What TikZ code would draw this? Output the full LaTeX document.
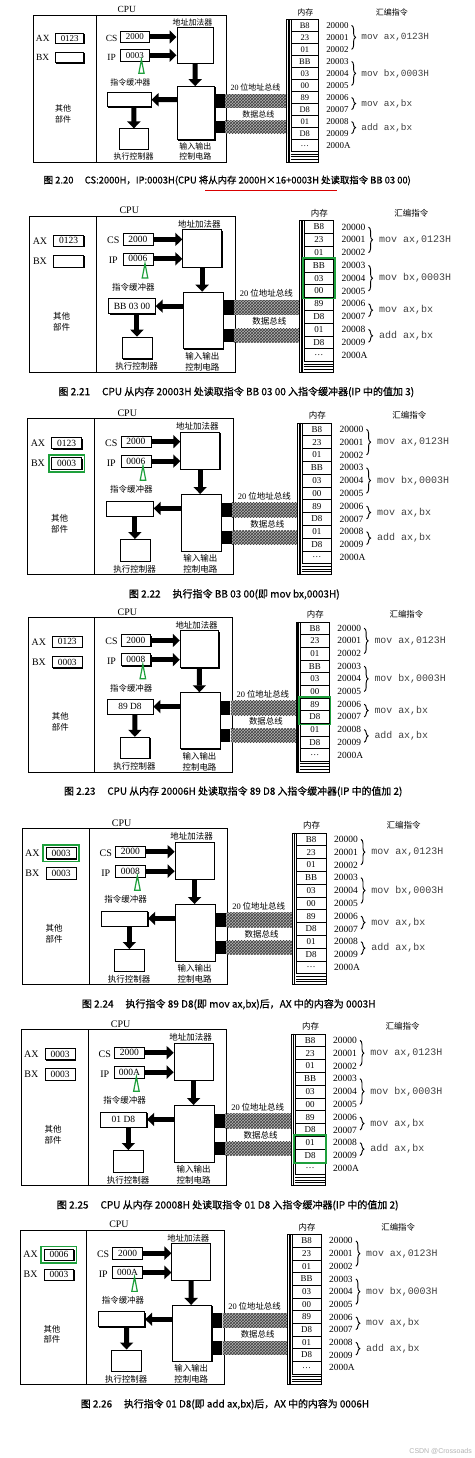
\documentclass[tikz,border=0pt]{standalone}
\usepackage{fontspec}
\setmainfont{Liberation Serif}
\setmonofont{Liberation Mono}
\newfontfamily\cjk{Noto Sans CJK SC}
\newfontfamily\capcjk[FakeBold=0.6]{Noto Sans CJK SC}
\newfontfamily\capfont{Liberation Sans}
\usetikzlibrary{positioning,fit,shadows,patterns,arrows.meta,decorations.pathreplacing}
\definecolor{hlgreen}{RGB}{30,160,60}

\begin{document}
\begin{tikzpicture}[x=1pt, y=-1pt,
    cpuframe/.style={draw, line width=0.9pt, anchor=north west, inner sep=0pt},
    reg/.style={draw, line width=0.7pt, fill=white, anchor=north west, inner sep=0pt,
      font=\fontsize{9.5}{10}\selectfont,
      drop shadow={shadow xshift=0.9pt, shadow yshift=-0.9pt, opacity=1, fill=black}},
    lbl/.style={inner sep=0pt, font=\fontsize{10}{11}\selectfont},
    zh/.style={inner sep=0pt, align=center, font=\cjk\fontsize{8.5}{11}\selectfont},
    fat/.style={line width=5pt, -{Triangle[length=7pt,width=13pt]}},
    stub/.style={fill=black, anchor=north west, inner sep=0pt, minimum width=10.7pt},
    bus/.style={anchor=west, inner sep=0pt, minimum width=66pt,
      preaction={fill=gray!60}, pattern=crosshatch, pattern color=black!75},
    cell/.style={draw, line width=0.6pt, anchor=north west, inner sep=0pt,
      minimum width=29.7pt, minimum height=12.8pt, font=\fontsize{9}{10}\selectfont},
    addr/.style={inner sep=0pt, font=\fontsize{9.5}{10}\selectfont},
    asm/.style={inner sep=0pt, text=black!75, font=\ttfamily\fontsize{10}{11}\selectfont},
    brace/.style={decorate, decoration={brace, amplitude=4pt}, line width=0.9pt},
    ipmark/.style={draw=hlgreen, line width=1.2pt, line join=miter},
    hlbox/.style={draw=hlgreen, line width=1.6pt},
    hlAX/.style={hlbox, inner sep=2.5pt, fit=(\n-ax)},
    hlBX/.style={hlbox, inner sep=2.5pt, fit=(\n-bx)},
    hlBB/.style={hlbox, inner sep=0.8pt, fit=(\n-m4)(\n-m6)},
    hl89/.style={hlbox, inner sep=0.8pt, fit=(\n-m7)(\n-m8)},
    hl01/.style={hlbox, inner sep=0.8pt, fit=(\n-m9)(\n-m10)},
    captext/.style={inner sep=0pt, font=\capcjk\fontsize{10}{12}\selectfont}]
  \useasboundingbox (0,0) rectangle (474,1458);

  \foreach \n/\px/\py/\scl/\axv/\bxv/\ipv/\bufv/\hlt/\capt in {
    1/32.7/15/0.94/0123/{}/0003/{}/{}/{图 2.20\hspace{1.2em}CS:2000H，IP:0003H(CPU 将从内存 2000H×16+0003H 处读取指令 BB 03 00)},
    2/29.3/216/1/0123/{}/0006/{BB 03 00}/hlBB/{图 2.21\hspace{1.2em}CPU 从内存 20003H 处读取指令 BB 03 00 入指令缓冲器(IP 中的值加 3)},
    3/27.3/418.3/1/0123/0003/0006/{}/hlBX/{图 2.22\hspace{1.2em}执行指令 BB 03 00(即 mov bx,0003H)},
    4/28.3/617.3/0.99/0123/0003/0008/{89 D8}/hl89/{图 2.23\hspace{1.2em}CPU 从内存 20006H 处读取指令 89 D8 入指令缓冲器(IP 中的值加 2)},
    5/21.7/828.3/1/0003/0003/0008/{}/hlAX/{图 2.24\hspace{1.2em}执行指令 89 D8(即 mov ax,bx)后，AX 中的内容为 0003H},
    6/20.7/1029.3/1/0003/0003/000A/{01 D8}/hl01/{图 2.25\hspace{1.2em}CPU 从内存 20008H 处读取指令 01 D8 入指令缓冲器(IP 中的值加 2)},
    7/20/1230/0.99/0006/0003/000A/{}/hlAX/{图 2.26\hspace{1.2em}执行指令 01 D8(即 add ax,bx)后，AX 中的内容为 0006H}}
  {
  \begin{scope}[shift={(\px,\py)}, scale=\scl, transform shape]
    %---------------- CPU frame ----------------
    \node[cpuframe, minimum width=205.7pt, minimum height=156pt] (\n-cpu) at (0,0) {};
    \draw[line width=0.9pt] (67.3,0) -- (67.3,156);
    \node[lbl] (\n-cpul) at (100,-5.5) {CPU};
    %---------------- registers ----------------
    \node[lbl] (\n-axl) at (10.7,24.7) {AX};
    \node[reg, minimum width=30pt, minimum height=11pt] (\n-ax) at (24,19) {\axv};
    \node[lbl] (\n-bxl) at (10.7,45) {BX};
    \node[reg, minimum width=30pt, minimum height=11.5pt] (\n-bx) at (24,39) {\bxv};
    \node[zh] (\n-rest) at (32.3,105.3) {其他\\部件};
    \node[lbl] (\n-csl) at (84,24.7) {CS};
    \node[reg, minimum width=30pt, minimum height=11.5pt] (\n-cs) at (93.3,17.3) {2000};
    \node[lbl] (\n-ipl) at (84,44.7) {IP};
    \node[reg, minimum width=30pt, minimum height=12pt] (\n-ip) at (93.3,36.5) {\ipv};
    \draw[ipmark] (115.7,47.5) -- (118.5,62) -- (112.9,62) -- cycle;
    %---------------- units ----------------
    \node[reg, minimum width=39pt, minimum height=37.4pt] (\n-add) at (153,13.3) {};
    \node[zh] (\n-addl) at (170,8) {地址加法器};
    \node[reg, minimum width=40pt, minimum height=56.6pt] (\n-io) at (153.3,75.7) {};
    \node[zh] (\n-iol) at (173,145.5) {输入输出\\控制电路};
    \node[zh] (\n-bufl) at (104,71.3) {指令缓冲器};
    \node[reg, minimum width=46.7pt, minimum height=15pt] (\n-buf) at (79,82.3) {\bufv};
    \node[reg, minimum width=30pt, minimum height=21.6pt] (\n-exe) at (92.3,120.7) {};
    \node[zh] (\n-exel) at (107.3,150.7) {执行控制器};
    \draw[fat] (\n-cs) -- (\n-cs -| \n-add.west);
    \draw[fat] (\n-ip) -- (\n-ip -| \n-add.west);
    \draw[fat] (\n-add) -- (\n-add |- \n-io.north);
    \draw[fat] (\n-io.west |- \n-buf) -- (\n-buf);
    \draw[fat] (\n-exe.north |- \n-buf.south) -- (\n-exe);
    %---------------- buses ----------------
    \node[stub, minimum height=14.5pt] (\n-as) at (193.3,84) {};
    \node[bus, minimum height=14.5pt] (\n-ab) at (\n-as.east) {};
    \node[stub, minimum height=13.5pt] (\n-ds) at (193.3,112.3) {};
    \node[bus, minimum height=13.5pt] (\n-db) at (\n-ds.east) {};
    \node[zh] (\n-abl) at (237,77.5) {{\rmfamily 20} 位地址总线};
    \node[zh] (\n-dbl) at (240,105.5) {数据总线};
    %---------------- memory ----------------
    \node[zh] (\n-meml) at (290,-3) {内存};
    \node[zh] (\n-asml) at (382,-3) {汇编指令};
    \node[draw, line width=0.7pt, anchor=north west, inner sep=0pt,
      minimum width=34pt, minimum height=151.7pt] (\n-mem) at (270,4.3) {};
    \draw[line width=1.6pt] (272.6,4.3) -- (272.6,156);
    \foreach \val/\ad [count=\i] in {B8/20000,23/20001,01/20002,BB/20003,03/20004,00/20005,89/20006,D8/20007,01/20008,D8/20009,\ldots/2000A} {
      \node[cell] (\n-m\i) at (274.3,{4.3+(\i-1)*12.8}) {\val};
      \node[addr, right=7.5pt of \n-m\i] (\n-a\i) {\ad};
    }
    \foreach \y in {147.8,150.5,153.2}
      \draw[line width=0.5pt] (274.3,\y) -- (304,\y);
    \foreach \s/\e/\txt [count=\k] in {1/3/{mov ax,0123H},4/6/{mov bx,0003H},7/8/{mov ax,bx},9/10/{add ax,bx}}
      \draw[brace] ([xshift=3pt]\n-a\s.east) -- node[asm, right=10pt] (\n-c\k) {\txt} ([xshift=3pt]\n-a\e.east);
    %---------------- highlight and caption ----------------
    \if\relax\detokenize\expandafter{\hlt}\relax\else
      \node[\hlt] (\n-hl) {};
    \fi
    \node[captext] (\n-cap) at (207,176) {\capt};
  \end{scope}
  }
  \draw[red!85!black, line width=0.8pt] (205,190) -- (337,190);
  \node[anchor=south east, inner sep=0pt, text=gray!60, font=\capfont\fontsize{7}{8}\selectfont] (mark) at (472,1455) {CSDN @Crossoads};
\end{tikzpicture}
\end{document}
